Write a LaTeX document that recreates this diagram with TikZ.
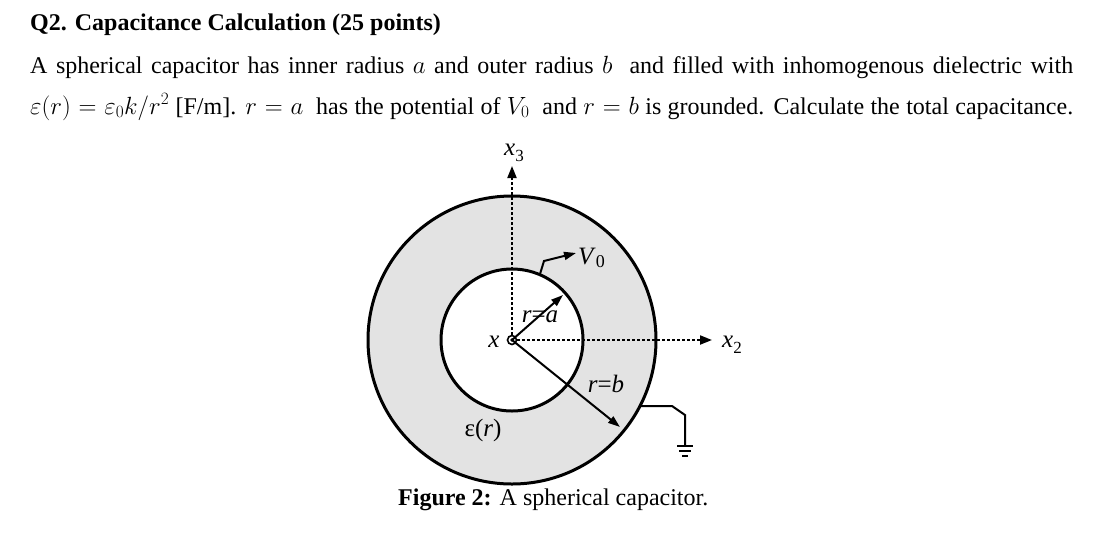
\documentclass[tikz,border=0pt]{standalone}
\usepackage{fontspec}
\setmainfont{Liberation Serif}
\usetikzlibrary{arrows.meta,calc}
\begin{document}
\begin{tikzpicture}[x=1pt,y=-1pt,
  txt/.style={anchor=base west,inner sep=0,font=\fontsize{24}{28}\selectfont},
  lbl/.style={inner sep=0,font=\fontsize{25}{28}\selectfont},
  axis/.style={densely dashed,line width=2pt,-{Triangle[length=12pt,width=9pt]}},
  arr/.style={line width=2pt,-{Triangle[length=12pt,width=8pt]}}]
\useasboundingbox (0,0) rectangle (1113,550);
\node[txt] (title) at (30,30) {\textbf{Q2. Capacitance Calculation (25 points)}};
\node[txt] (l1) at (30,73) {\makebox[1043pt][s]{A spherical capacitor has inner radius $a$ and outer radius $b$\ \ and filled with inhomogenous dielectric with}};
\node[txt] (l2) at (30,114) {\makebox[1043pt][s]{$\varepsilon(r)=\varepsilon_0k/r^2$ [F/m]. $r=a$\ \ has the potential of $V_0$\ \ and $r=b$ is grounded. Calculate the total capacitance.}};
\coordinate (O) at (512,340);
\fill[gray!22] (O) circle (144);
\fill[white] (O) circle (71);
\draw[line width=3pt] (O) circle (144);
\draw[line width=3pt] (O) circle (71);
\coordinate (x3t) at (512,166);
\coordinate (x2t) at (712,340);
\draw[axis] (O) -- (x3t);
\draw[axis] (O) -- (x2t);
\node[lbl] (x3) at (514,153) {\textit{x}\raisebox{-6pt}{\fontsize{17}{17}\selectfont 3}};
\node[lbl] (x2) at (732,345) {\textit{x}\raisebox{-6pt}{\fontsize{17}{17}\selectfont 2}};
\node[lbl] (x1) at (494,342) {\textit{x}};
\draw[line width=1.6pt,fill=white] (O) circle (4.5);
\fill (O) circle (1.8);
\coordinate (va) at (540,274);
\coordinate (vb) at (544,261);
\coordinate (vc) at (576,253);
\draw[arr] (va) -- (vb) -- (vc);
\node[lbl,anchor=west] (V0) at (578,258) {\textit{V}\raisebox{-3pt}{\fontsize{18}{18}\selectfont 0}};
\coordinate (ra) at (563,295);
\draw[arr] (O) -- (ra);
\node[lbl] (ral) at (540,317) {\textit{r}=\textit{a}};
\coordinate (rb) at (620,427);
\draw[arr] (O) -- (rb);
\node[lbl] (rbl) at (606,384) {\textit{r}=\textit{b}};
\node[lbl] (eps) at (483,430) {ε(\textit{r})};
\coordinate (g0) at (640,406);
\coordinate (g1) at (672,406);
\coordinate (g2) at (685,415);
\coordinate (g3) at (685,446);
\draw[line width=2pt] (g0) -- (g1) -- (g2) -- (g3);
\draw[line width=1.6pt] ($(g3)+(-8,0)$) -- ($(g3)+(8,0)$);
\draw[line width=1.4pt] (679,451) -- (691,451);
\draw[line width=1.2pt] (682,456) -- (688,456);
\node[txt] (cap) at (398,505) {\textbf{Figure 2:} A spherical capacitor.};
\end{tikzpicture}
\end{document}
